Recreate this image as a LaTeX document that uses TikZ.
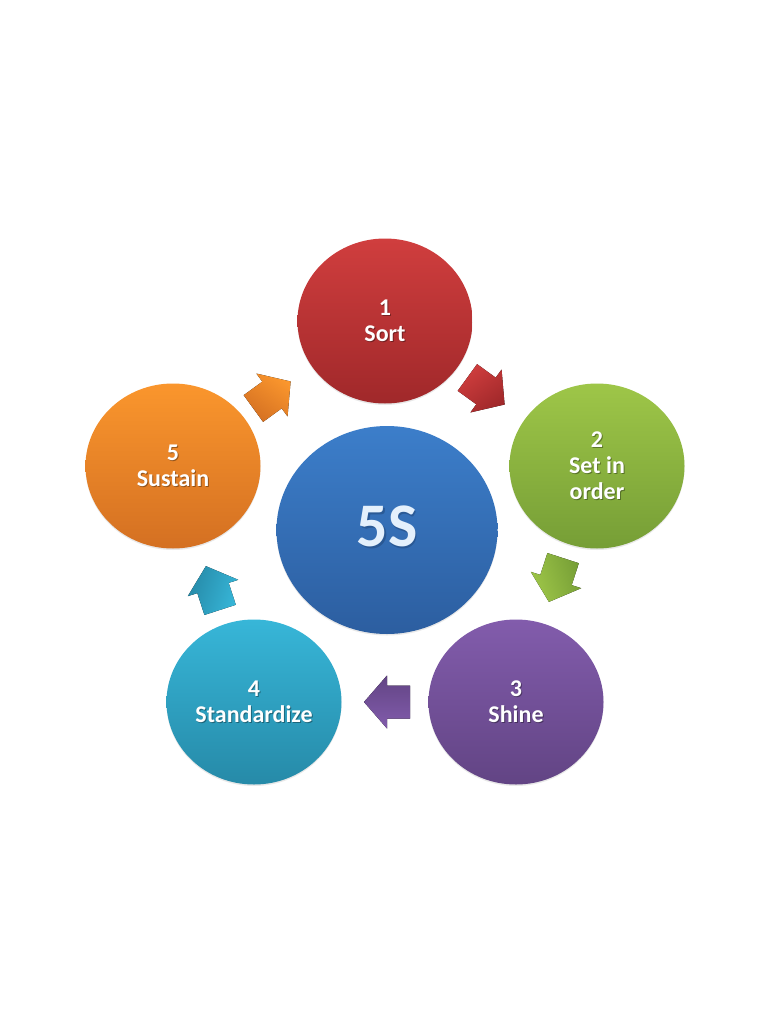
\documentclass[tikz,border=0pt]{standalone}
\usepackage{fontspec}
\setmainfont{Carlito}
\usetikzlibrary{shapes.geometric,shadows}
\definecolor{redT}{RGB}{208,62,62}
\definecolor{redB}{RGB}{160,40,42}
\definecolor{grnT}{RGB}{158,198,72}
\definecolor{grnB}{RGB}{118,158,54}
\definecolor{purT}{RGB}{130,92,172}
\definecolor{purB}{RGB}{98,68,132}
\definecolor{tealT}{RGB}{55,182,216}
\definecolor{tealB}{RGB}{38,138,168}
\definecolor{orgT}{RGB}{250,150,45}
\definecolor{orgB}{RGB}{212,112,34}
\definecolor{bluT}{RGB}{60,126,202}
\definecolor{bluB}{RGB}{44,94,160}
\definecolor{fiveS}{RGB}{228,240,252}
\newcommand\blockarrowshape{(-23,-16.5) -- (0,-16.5) -- (0,-26.5) -- (23,0) -- (0,26.5) -- (0,16.5) -- (-23,16.5) -- cycle}
\begin{document}
\begin{tikzpicture}[x=1pt,y=-1pt,
  bubble/.style={ellipse, minimum width=175pt, minimum height=165pt, inner sep=0pt,
    drop shadow={opacity=0.18, shadow xshift=0pt, shadow yshift=-1.5pt}},
  lblfont/.style={font=\fontsize{24}{26}\selectfont\bfseries, align=center},
  lbl/.style={lblfont, text=white},
  lblshadow/.style={lblfont, text=black, text opacity=0.35}
]
\useasboundingbox (0,0) rectangle (768,1024);
\fill[white] (0,0) rectangle (768,1024);

% center
\node[ellipse, minimum width=221pt, minimum height=208pt, inner sep=0pt,
  top color=bluT, bottom color=bluB,
  drop shadow={opacity=0.18, shadow xshift=0pt, shadow yshift=-1.5pt}] (c0) at (387,530) {};
\node[font=\fontsize{62}{66}\selectfont\bfseries, text=bluB!80!black, text opacity=0.6] (s0) at (388.5,528) {5S};
\node[font=\fontsize{62}{66}\selectfont\bfseries, text=fiveS] (t0) at (387,526) {5S};

% outer circles
\node[bubble, top color=redT, bottom color=redB] (c1) at (385,321) {};
\node[bubble, top color=grnT, bottom color=grnB] (c2) at (597,466) {};
\node[bubble, top color=purT, bottom color=purB] (c3) at (516,702) {};
\node[bubble, top color=tealT, bottom color=tealB] (c4) at (254,702) {};
\node[bubble, top color=orgT, bottom color=orgB] (c5) at (173,466) {};

% labels
\node[lblshadow] (s1) at ([shift={(1,1.2)}]c1) {1\\Sort};
\node[lbl] (t1) at (c1) {1\\Sort};
\node[lblshadow] (s2) at ([shift={(1,1.2)}]c2) {2\\Set in\\order};
\node[lbl] (t2) at (c2) {2\\Set in\\order};
\node[lblshadow] (s3) at ([shift={(1,1.2)}]c3) {3\\Shine};
\node[lbl] (t3) at (c3) {3\\Shine};
\node[lblshadow] (s4) at ([shift={(1,1.2)}]c4) {4\\Standardize};
\node[lbl] (t4) at (c4) {4\\Standardize};
\node[lblshadow] (s5) at ([shift={(1,1.2)}]c5) {5\\Sustain};
\node[lbl] (t5) at (c5) {5\\Sustain};

% block arrows
\coordinate (a12) at (486,391);
\coordinate (a23) at (556,580);
\coordinate (a34) at (387,702);
\coordinate (a45) at (213,588);
\coordinate (a51) at (272,395);
\begin{scope}[shift={(a12)}, rotate=-36]
  \fill[top color=redT, bottom color=redB, shading angle=36] \blockarrowshape;
\end{scope}
\begin{scope}[shift={(a23)}, rotate=-108]
  \fill[top color=grnT, bottom color=grnB, shading angle=108] \blockarrowshape;
\end{scope}
\begin{scope}[shift={(a34)}, rotate=180]
  \fill[top color=purT, bottom color=purB, shading angle=-180] \blockarrowshape;
\end{scope}
\begin{scope}[shift={(a45)}, rotate=108]
  \fill[top color=tealT, bottom color=tealB, shading angle=-108] \blockarrowshape;
\end{scope}
\begin{scope}[shift={(a51)}, rotate=36]
  \fill[top color=orgT, bottom color=orgB, shading angle=-36] \blockarrowshape;
\end{scope}
\end{tikzpicture}
\end{document}
